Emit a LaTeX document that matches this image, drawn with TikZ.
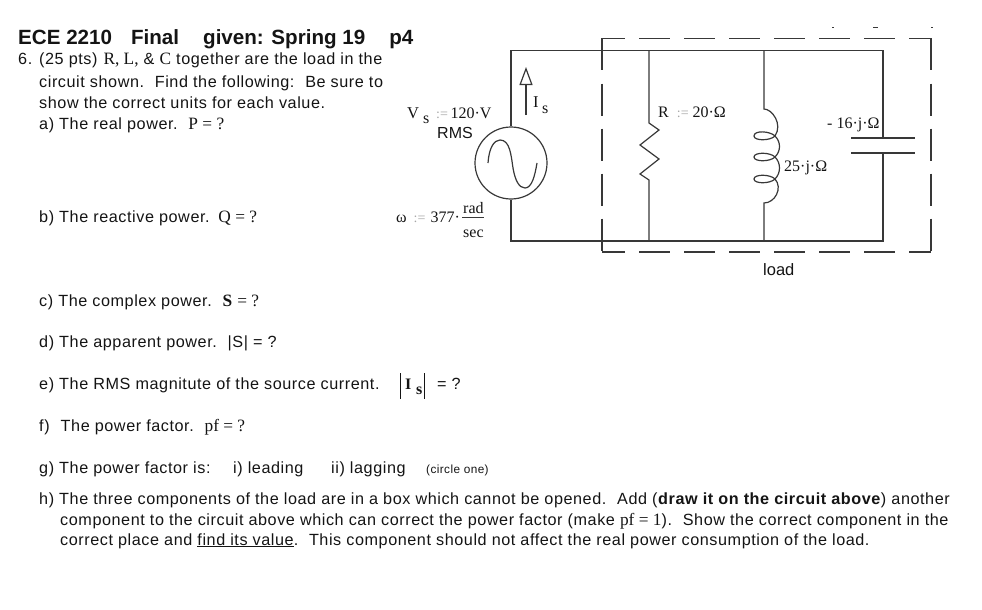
\documentclass[tikz,border=0pt]{standalone}
\usepackage{fontspec}
\setmainfont[LetterSpace=3.5]{Liberation Sans}
\newfontfamily\plainfont{Liberation Sans}
\newfontfamily\mathfont{Liberation Serif}
\newfontfamily\inlinefont[Scale=1.07]{Liberation Serif}
\usetikzlibrary{arrows.meta}
\definecolor{wire}{gray}{0.22}
\definecolor{ink}{gray}{0.08}
\newcommand{\defeq}{{\color{gray!70}\fontsize{14}{14}\selectfont:=}}
\tikzset{
    txt/.style={anchor=base west, inner sep=0pt, text=ink, font=\fontsize{16.2}{18}\selectfont},
    val/.style={anchor=base west, inner sep=0pt, text=ink, font=\mathfont\fontsize{16}{18}\selectfont},
    wireline/.style={draw=wire, line width=1.2pt},
    loadline/.style={draw=wire, line width=1.4pt}
}
\begin{document}
\begin{tikzpicture}[x=1pt,y=-1pt]
        \useasboundingbox (0,0) rectangle (982,610);
        % problem text
        \node[txt, font=\plainfont\bfseries\fontsize{20.6}{22}\selectfont] (title) at (18,45) {ECE 2210\hspace{19pt}Final\hspace{24pt}given: Spring 19\hspace{24pt}p4};
        \node[txt] (qnum) at (18,65) {6.};
        \node[txt] (intro) at (39,65) {(25 pts)\hspace{6pt}{\inlinefont R, L,} \& {\inlinefont C} together are the load in the};
        \node[txt] (introb) at (39,87) {circuit shown.\hspace{4pt} Find the following:\hspace{4pt} Be sure to};
        \node[txt] (introc) at (39,108) {show the correct units for each value.};
        \node[txt] (parta) at (39,129) {a) The real power.\hspace{4pt} {\inlinefont P = ?}};
        \node[txt] (partb) at (39,222) {b) The reactive power.\hspace{2pt} {\inlinefont Q = ?}};
        \node[txt] (partc) at (39,306) {c) The complex power.\hspace{4pt} {\inlinefont\bfseries S} {\inlinefont = ?}};
        \node[txt] (partd) at (39,347) {d) The apparent power.\hspace{4pt} |S| = ?};
        \node[txt] (parte) at (39,389) {e) The RMS magnitute of the source current.};
        \node[val, font=\mathfont\bfseries\fontsize{16}{18}\selectfont] (isbold) at (405,389) {I};
        \node[val, font=\mathfont\bfseries\fontsize{16}{18}\selectfont] (isbolds) at (416,394) {s};
        \node[txt] (isq) at (437,389) {= ?};
        \coordinate (barat) at (400,373);
        \coordinate (barab) at (400,399);
        \coordinate (barbt) at (424,373);
        \coordinate (barbb) at (424,399);
        \draw[ink, line width=0.8pt] (barat) -- (barab);
        \draw[ink, line width=0.8pt] (barbt) -- (barbb);
        \node[txt] (partf) at (39,431) {f)\hspace{6pt} The power factor.\hspace{4pt} {\inlinefont pf = ?}};
        \node[txt] (partg) at (39,473) {g) The power factor is:};
        \node[txt] (leading) at (233,473) {i) leading};
        \node[txt] (lagging) at (331,473) {ii) lagging};
        \node[txt, font=\fontsize{11.8}{12}\selectfont] (circleone) at (426,473) {(circle one)};
        \node[txt] (parth) at (39,504) {h) The three components of the load are in a box which cannot be opened.\hspace{4pt} Add (\textbf{draw it on the circuit above}) another};
        \node[txt] (parthb) at (60,525) {component to the circuit above which can correct the power factor (make {\inlinefont pf = 1}).\hspace{4pt} Show the correct component in the};
        \node[txt] (parthc) at (60,545) {correct place and \underline{find its value}.\hspace{4pt} This component should not affect the real power consumption of the load.};
        % circuit
        \coordinate (tl) at (511,50.5);
        \coordinate (bl) at (511,241);
        \coordinate (tr) at (649,50.5);
        \coordinate (br) at (649,241);
        \coordinate (tj) at (764,50.5);
        \coordinate (bj) at (764,241);
        \coordinate (tc) at (883,50.5);
        \coordinate (bc) at (883,241);
        \coordinate (cplatea) at (883,138);
        \coordinate (cplateb) at (883,153);
        \node[circle, wireline, minimum size=72pt, inner sep=0pt] (vsrc) at (511,163) {};
        \draw[wireline] (vsrc) -- (tl) -- (tc) -- (cplatea);
        \draw[wireline] (cplateb) -- (bc) -- (bl) -- (vsrc);
        \draw[wireline] (488,163) .. controls (489,148) and (494,140) .. (500,140) .. controls (510,140) and (511,155) .. (513,168) .. controls (515,180) and (519,188) .. (525,188) .. controls (532,188) and (535,175) .. (537,163);
        % resistor
        \coordinate (rtop) at (649,123);
        \coordinate (rbot) at (649,180);
        \draw[wireline] (tr) -- (rtop) -- (659,130) -- (640,145) -- (659,159) -- (640,174) -- (rbot) -- (br);
        % inductor
        \coordinate (ltop) at (764,109);
        \coordinate (lbot) at (764,203);
        \draw[wireline] (tj) -- (ltop) .. controls (772,109) and (783,124) .. (775,136)
            .. controls (770,131) and (754,130) .. (754,136) .. controls (754,141) and (770,141) .. (775,136)
            .. controls (781,142) and (781,151) .. (775,157)
            .. controls (770,152) and (754,152) .. (754,157) .. controls (754,162) and (770,162) .. (775,157)
            .. controls (781,163) and (781,173) .. (775,179)
            .. controls (770,174) and (754,174) .. (754,179) .. controls (754,184) and (770,184) .. (775,179)
            .. controls (783,188) and (775,203) .. (lbot) -- (bj);
        % capacitor
        \coordinate (cal) at (851,138);
        \coordinate (car) at (915,138);
        \coordinate (cbl) at (851,153);
        \coordinate (cbr) at (915,153);
        \draw[wireline] (cal) -- (car);
        \draw[wireline] (cbl) -- (cbr);
        % current arrow
        \coordinate (iat) at (526,115);
        \coordinate (ito) at (526,67);
        \draw[wire, line width=1.2pt, -{Triangle[open, length=18pt, width=13pt]}] (iat) -- (ito);
        % load box
        \coordinate (boxtl) at (602,38.5);
        \coordinate (boxtr) at (931,38.5);
        \coordinate (boxbl) at (602,252);
        \coordinate (boxbr) at (931,252);
        \draw[loadline, dash pattern=on 31pt off 14pt, dash phase=8pt] (boxtl) -- (boxtr);
        \draw[loadline, dash pattern=on 31pt off 14pt, dash phase=8pt] (boxbl) -- (boxbr);
        \draw[loadline, dash pattern=on 32pt off 13pt] (boxtl) -- (boxbl);
        \draw[loadline, dash pattern=on 32pt off 13pt] (boxtr) -- (boxbr);
        \draw[wire, line width=0.8pt] (832,27) -- (834,27);
        \draw[wire, line width=0.8pt] (873,27) -- (878,27);
        \draw[wire, line width=0.8pt] (931,27) -- (933,27);
        % values
        \node[val, font=\mathfont\fontsize{16.5}{18}\selectfont] (vs) at (407,118) {V};
        \node[val] (vss) at (423,123) {s};
        \node[val] (vsval) at (436,118) {\defeq\,120·V};
        \node[txt, font=\plainfont\fontsize{16}{18}\selectfont] (rms) at (437,138) {RMS};
        \node[val, font=\mathfont\fontsize{16.5}{18}\selectfont] (isl) at (533,107) {I};
        \node[val] (iss) at (542,113) {s};
        \node[val] (rval) at (658,117) {R\hspace{8pt}\defeq\hspace{4pt}20·Ω};
        \node[val] (lval) at (784,171) {25·j·Ω};
        \node[val] (cval) at (827,128) {- 16·j·Ω};
        \node[txt, font=\plainfont\fontsize{16.5}{18}\selectfont] (loadl) at (763,275) {load};
        \node[val] (wval) at (396,222) {ω\hspace{7pt}\defeq\hspace{5pt}377·};
        \coordinate (fracl) at (462,217);
        \coordinate (fracr) at (484,217);
        \draw[wire, line width=0.7pt] (fracl) -- (fracr);
        \node[val] (radl) at (463,213) {rad};
        \node[val] (secl) at (463,237) {sec};
    \end{tikzpicture}
\end{document}
